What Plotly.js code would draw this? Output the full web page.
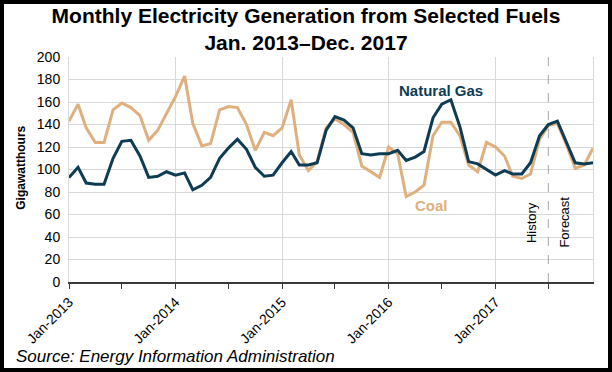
<!DOCTYPE html>
<html>
<head>
<meta charset="utf-8">
<script src="https://cdn.plot.ly/plotly-3.0.1.min.js"></script>
<style>
  html, body { margin: 0; padding: 0; background: #fff; }
  #wrap { position: relative; width: 612px; height: 372px; }
  #chart { width: 612px; height: 372px; }
  #frame { position: absolute; left: 0; top: 0; width: 612px; height: 372px; box-sizing: border-box; border: 4px solid #000; pointer-events: none; }
</style>
</head>
<body>
<div id="wrap"><div id="chart"></div><div id="frame"></div></div>
<script>
// Categories: monthly, Jan-2013 .. Dec-2017
const years = [2013, 2014, 2015, 2016, 2017];
const months = [];
years.forEach(function (y) {
  for (let m = 1; m <= 12; m++) months.push(y + '-' + (m < 10 ? '0' + m : m) + '-01');
});

// Gigawatthours
const coal = [
  143, 158, 137, 124, 124, 153, 159, 155, 148, 126, 135, 150,
  165, 183, 141, 121, 123, 153, 156, 155, 140, 117, 133, 130,
  137, 162, 113, 99, 107, 137, 145, 140, 133, 103, 98, 93,
  120, 114, 76, 80, 86, 130, 142, 142, 130, 104, 98, 124,
  120, 112, 94, 92, 96, 127, 139, 141, 122, 101, 104, 119
];
const naturalGas = [
  93, 102, 88, 87, 87, 110, 125, 126, 112, 93, 94, 98,
  95, 97, 82, 86, 93, 110, 119, 127, 118, 102, 94, 95,
  106, 116, 104, 104, 106, 135, 147, 144, 137, 114, 113, 114,
  114, 117, 108, 111, 116, 146, 158, 162, 138, 107, 105, 100,
  95, 99, 96, 96, 106, 130, 140, 143, 124, 106, 105, 106
];

const tickVals = ['2013-01-01', '2014-01-01', '2015-01-01', '2016-01-01', '2017-01-01'];
const tickText = ['Jan-2013', 'Jan-2014', 'Jan-2015', 'Jan-2016', 'Jan-2017'];
const minorTickVals = ['2013-07-01', '2014-07-01', '2015-07-01', '2016-07-01', '2017-07-01'];
const forecastStart = '2017-07-01';

const COAL = '#dfb07d';
const GAS = '#0d3c54';
const FONT = 'Liberation Sans, Arial, sans-serif';

const traces = [
  { x: months, y: coal, type: 'scatter', mode: 'lines', name: 'Coal',
    line: { color: COAL, width: 3 }, hoverinfo: 'x+y' },
  { x: months, y: naturalGas, type: 'scatter', mode: 'lines', name: 'Natural Gas',
    line: { color: GAS, width: 3 }, hoverinfo: 'x+y' }
];

const layout = {
  width: 612, height: 372,
  margin: { l: 69, r: 19, t: 57, b: 90, pad: 0 },
  paper_bgcolor: '#fff', plot_bgcolor: '#fff',
  showlegend: false,
  font: { family: FONT, color: '#000' },
  title: {
    text: '<b>Monthly Electricity Generation from Selected Fuels<br>Jan. 2013–Dec. 2017</b>',
    font: { family: FONT, size: 21, color: '#000' },
    xref: 'container', x: 0.5, xanchor: 'center',
    yref: 'container', y: 0.938, yanchor: 'top'
  },
  xaxis: {
    type: 'date',
    range: ['2013-01-01', '2017-12-01'],
    tickmode: 'array', tickvals: tickVals, ticktext: tickText,
    tickangle: -45,
    tickfont: { family: FONT, size: 14, color: '#000' },
    showgrid: true, gridcolor: '#d9d9d9', gridwidth: 1,
    showline: true, linecolor: '#3a3a3a', linewidth: 1.5,
    ticks: 'outside', ticklen: 5, tickcolor: '#3a3a3a', tickwidth: 1,
    minor: { tickmode: 'array', tickvals: minorTickVals, ticks: 'outside', ticklen: 5,
             tickcolor: '#3a3a3a', tickwidth: 1, showgrid: false },
    zeroline: false, fixedrange: true
  },
  yaxis: {
    range: [0, 200], tick0: 0, dtick: 20,
    tickfont: { family: FONT, size: 14, color: '#000' },
    showgrid: true, gridcolor: '#d9d9d9', gridwidth: 1,
    showline: true, linecolor: '#d9d9d9', linewidth: 1, mirror: true,
    ticks: 'outside', ticklen: 5, tickcolor: 'rgba(0,0,0,0)',
    zeroline: false, fixedrange: true
  },
  shapes: [
    { type: 'line', xref: 'x', yref: 'paper', x0: forecastStart, x1: forecastStart, y0: 0, y1: 1,
      line: { color: '#a6a6a6', width: 1, dash: 'dash' } }
  ],
  annotations: [
    { text: '<b>Gigawatthours</b>', xref: 'paper', yref: 'paper', x: -0.092, y: 0.507,
      xanchor: 'center', yanchor: 'middle', textangle: -90, showarrow: false,
      font: { family: FONT, size: 12, color: '#000' } },
    { text: '<b>Natural Gas</b>', xref: 'paper', yref: 'paper', x: 0.71, y: 0.853,
      xanchor: 'center', yanchor: 'middle', showarrow: false,
      font: { family: FONT, size: 15, color: GAS } },
    { text: '<b>Coal</b>', xref: 'paper', yref: 'paper', x: 0.691, y: 0.342,
      xanchor: 'center', yanchor: 'middle', showarrow: false,
      font: { family: FONT, size: 15, color: COAL } },
    { text: 'History', xref: 'paper', yref: 'paper', x: 0.8826, y: 0.264,
      xanchor: 'center', yanchor: 'middle', textangle: -90, showarrow: false,
      font: { family: FONT, size: 13, color: '#000' } },
    { text: 'Forecast', xref: 'paper', yref: 'paper', x: 0.9466, y: 0.264,
      xanchor: 'center', yanchor: 'middle', textangle: -90, showarrow: false,
      font: { family: FONT, size: 13, color: '#000' } },
    { text: '<i>Source: Energy Information Administration</i>', xref: 'paper', yref: 'paper',
      x: -0.105, y: -0.329, xanchor: 'left', yanchor: 'middle', showarrow: false,
      font: { family: FONT, size: 17, color: '#000' } }
  ]
};

Plotly.newPlot('chart', traces, layout, { displayModeBar: false, staticPlot: true });
</script>
</body>
</html>
